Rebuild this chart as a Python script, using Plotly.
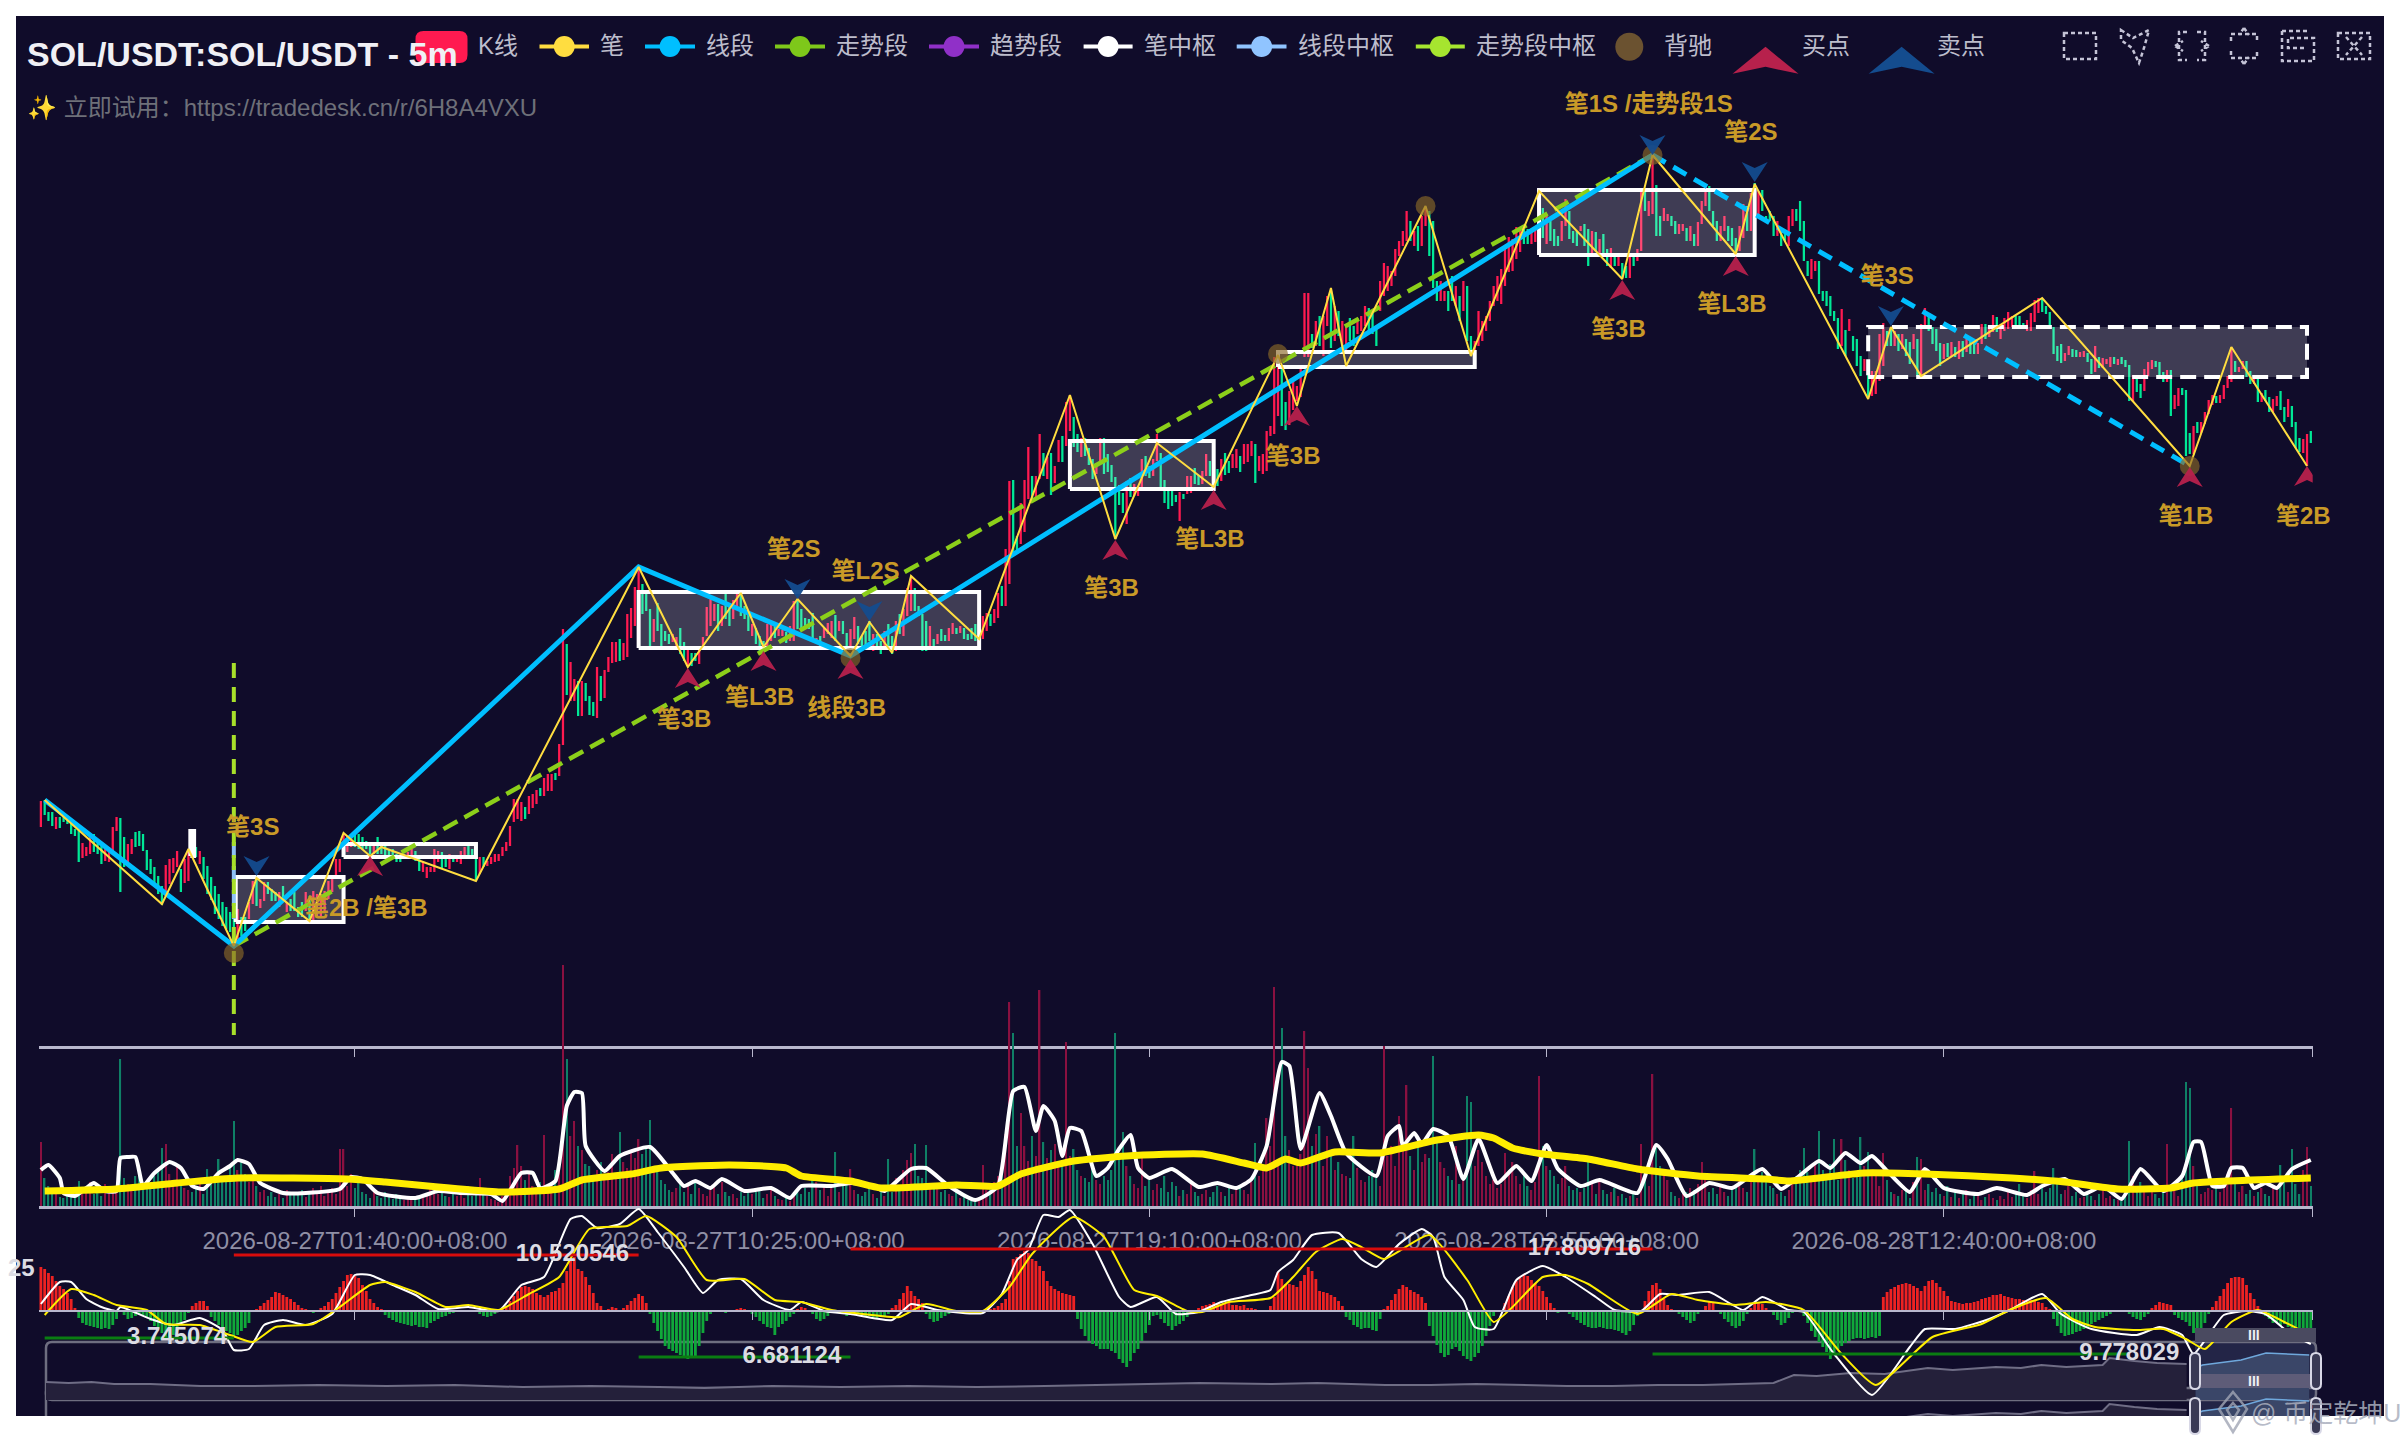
import plotly.graph_objects as go

W = 2400
H = 1440
BG = "#100c2a"

# ----- candles (5m bars, price scale hidden in the picture) -----
candle_open = [
    219,246,234,234,217,229,230,230,224,217, 217,188,190,192,212,207,202,185,184,195,
    215,228,209,184,192,214,215,212,196,187, 179,170,160,150,162,173,179,177,163,165,
    200,199,182,189,180,169,160,152,144,139, 134,130,107,129,129,127,142,167,138,145,
    164,157,154,139,160,134,147,154,139,144, 135,150,125,129,130,134,147,154,167,174,
    189,194,199,212,212,209,205,204,192,209, 202,200,197,197,192,190,187,187,189,195,
    187,174,168,174,174,184,194,187,177,190, 184,182,190,203,197,189,172,189,180,182,
    184,185,190,195,200,224,227,225,239, 232,238,242,258,250,255,255,273,270,301,402,
    345,345,365,330,363,350,344,328,370,348, 374,383,384,407,386,389,408,420,445,462,
    454,437,404,443,422,415,412,404,399,418, 404,380,393,393,382,398,410,420,425,442,
    420,452,440,427,440,452,440,433,410,418, 410,405,400,405,422,410,410,414,405,405,
    447,437,428,427,433,403,410,408,412,408, 431,415,425,413,400,407,420,410,415,425,
    395,412,405,398,422,410,395,432,410,430, 435,458,440,432,425,396,407,402,417,411,
    405,412,418,413,418,412,418,422,406,407, 415,432,423,428, 460,440,462,566,510,502,
    514,547,570,547,567,593,567,593,563,584, 610,600,615,629,612,589,608,598,587,572,
    582,608,592,581,569,561,553,522,568,550, 550,555,590,580,570,585,593,566,559,555,
    551,525,552,552,553,578,571,562,570,585, 575,577,565,593,585,578,578,590,582,584,
    590,602,575,572,575,610,612,630,680,644, 621,636,645,649, 689,689,712,700,730,690,
    720,755,705,735,700,695,728,720,712,715, 720,738,733,720,735,750,755,760,770,790,
    800,805,825,800,820,800,820,835,825,765, 745,745,755,770,740,750,735,760,710,690,
    700,705,715,725,740,745, 742,760,774,775,787,794,817,817,802,804,
    815,838,802,825,817,810,805,820,835,815, 815,815,822,817,790,814,792,812,797,778,
    793,780,783,780,768,790,785,795,855,830, 832,861,830,825,825,830,825,812,815,818,
    805,812,800,822,840,860,835,825,805,815, 820,818,808,795,808,840,815,863,830,856,
    830,835,830,810,815,815,800,820,837,845, 825,785,767,775,785,755,755,750,735,728,
    700,716,715,710,707,690,675,678,650,652, 665,680,715,718,700,712,
    697,707,704,697,707,670,717,730,719,717, 703,687,703,690,699,687,705,694,707,704,
    692,702,722,709,714,729,707,715,717,719, 730,730,723,715,715,724,733,747,740,734,
    719,700,702,685,691,697,696,689,689,693, 687,674,689,678,682,679,689,681,689,686,
    681,644,670,662,655,670,677,685,684,674, 664,676,637,640,658,656,613,592,624,613,
    622,632,641,650,643,647,658,664,685,674, 677,685,675,662,667,644,656,649,634,640,
    655,639,629,640,624,608,593,580,615,
]
candle_close = [
    245,231,225,220,229,218,224,222,212,210, 184,203,199,210,194,192,182,197,199,219,
    229,154,179,202,207,199,200,195,176,172, 160,152,141,181,187,188,195,154,187,195,
    190,189,195,167,152,146,132,127,120,117, 114,100,137,110,115,144,165,140,147,164,
    152,145,145,154,147,144,135,135,129,129, 154,127,155,152,152,155,165,167,187,187,
    212,210,210,199,197,197,197,192,200,192, 192,189,185,189,184,184,192,194,197,185,
    175,184,179,179,197,195,178,179,192,184, 191,195,199,191,187,165,189,179,185,189,
    192,192,199,204,220,247,247,244,227, 250,252,256,250,268,272,272,266,302,417,351,
    384,367,330,365,345,331,330,379,345,376, 389,404,404,385,403,432,438,459,480,432,
    435,396,427,415,400,405,402,412,409,392, 385,397,380,385,400,409,439,450,442,415,
    440,427,420,446,452,430,427,415,422,402, 395,398,422,425,408,417,416,403,420,445,
    417,417,418,417,408,408,400,418,423,425, 405,425,412,396,417,429,402,397,397,405,
    412,396,392,415,400,392,425,412,437,458, 468,435,430,395,395,420,398,412,405,405,
    418,423,412,420,407,406,407,405,415,430, 433,420,437,453, 440,497,565,490,492,543,
    566,599,545,570,612,570,589,551,580,606, 584,644,651,599,594,608,590,581,567,583,
    608,572,574,564,507,541,533,565,549,562, 560,587,570,568,587,612,555,543,537,540,
    544,554,547,570,570,562,561,575,592,570, 557,560,587,571,573,592,597,574,602,602,
    605,563,590,592,615,620,689,680,620,616, 655,668,660,680, 753,753,698,725,700,730,
    750,698,740,710,725,720,705,700,728,730, 740,715,712,700,765,783,780,775,797,805,
    815,835,805,815,795,830,838,790,758,745, 765,755,735,745,760,725,765,705,690,705,
    735,725,730,745,760,770, 777,799,809,807,819,817,802,802,817,817,
    855,808,832,805,800,800,825,847,807,803, 800,820,800,780,815,795,807,793,780,798,
    780,793,768,768,790,780,797,855,835,845, 897,810,810,838,832,820,812,822,822,805,
    820,800,824,845,862,835,820,805,820,830, 805,800,792,820,842,815,853,830,855,835,
    825,825,810,825,800,805,830,837,825,815, 785,770,787,785,752,745,740,730,725,697,
    737,690,727,695,680,670,687,650,675,675, 712,723,700,700,715,695,
    712,690,682,712,670,722,738,715,702,695, 680,702,689,704,689,705,689,707,692,692,
    703,722,707,719,731,714,720,728,734,730, 717,717,719,726,733,746,748,734,732,720,
    692,685,683,693,700,689,689,694,695,684, 672,700,678,688,687,689,682,687,682,679,
    645,671,654,648,677,684,686,679,670,664, 676,630,651,658,651,590,592,620,613,624,
    634,646,651,643,651,661,670,699,674,679, 685,669,662,670,644,653,645,634,647,650,
    636,624,647,619,598,594,607,612,603,
]

# ----- chan lines -----
bi_x = [1,32,39,51,57,71,80,87,90,115,158,171,185,191,200,214,219,225,230,248,272,284,295,310,327,332,
        341,345,366,378,396,418,426,448,453,483,489,497,529,568,579,599]
bi_y = [246,142,197,100,168,125,213,190,199,165,479,379,453,399,447,390,424,393,470,407,651,507,603,559,691,640,
        758,680,840,690,855,767,891,792,862,647,719,670,748,580,699,580]
seg_x = [1,51,158,214,426]
seg_y = [246,100,479,390,891]
seg_open_x = [426,568]
seg_open_y = [891,580]
trend_x = [51,426]
trend_y = [100,891]
beichi_marker_x = [51,214,327,366,426,568]
beichi_marker_y = [93,388,692,840,891,580]

# pen pivots: left, right, low, high
zs_left = [51.5,80,158,272,327,396,39.5]
zs_right = [80,115,248,310,379,453,40.5]
zs_low = [124,189,398,557,679,791,190]
zs_high = [169,202,454,605,694,856,215]
zs_open_left = 483
zs_open_right = 599
zs_open_low = 669
zs_open_high = 719

buy_x = [87,171,191,214,284,310,332,418,448,568,599]
buy_y = [190,378,395,387,506,556,640,766,790,579,580]
sell_x = [57,200,219,426,453,489]
sell_y = [170,447,425,891,864,720]
label_x = [86,170,190,213,283,309,331,417,447,567,598,56,199,218,425,452,488]
label_y = [136,325,347,336,456,505,588,715,740,528,528,217,495,473,940,912,768]
label_text = ["笔2B /笔3B","笔3B","笔L3B","线段3B","笔3B","笔L3B","笔3B","笔3B","笔L3B","笔1B","笔2B",
              "笔3S","笔2S","笔L2S","笔1S /走势段1S","笔2S","笔3S"]

# ----- volume -----
volume = [
    64,28,20,16,12,9,8,12,17,8,25,12,16,24,12,16,10,22,14,18,
    16,147,28,22,18,30,34,20,26,24,30,36,58,62,32,26,40,24,18,16,
    14,18,22,12,37,30,26,47,28,30,38,85,36,46,32,24,30,20,14,16,
    10,14,9,12,8,16,12,14,11,16,9,13,18,12,20,10,14,18,12,57,
    57,20,32,18,26,14,12,8,16,10,8,14,10,7,12,9,6,10,8,6,
    8,12,10,18,22,12,16,10,9,14,10,12,8,20,10,14,28,11,10,7,
    6,4,10,14,30,38,61,40,26,34,20,16,24,71,20,22,36,44,241,147,
    70,85,60,56,42,40,30,36,44,30,34,52,30,74,44,38,56,48,67,52,
    60,86,36,40,26,22,16,14,18,26,14,20,12,24,18,12,10,16,20,12,
    24,14,10,12,8,14,10,16,12,14,18,8,12,16,10,7,6,9,5,14,
    16,12,18,14,30,24,16,20,10,18,54,14,28,22,37,16,12,10,14,20,
    12,8,16,10,47,14,28,20,36,46,53,62,30,28,61,22,20,18,14,16,
    12,10,14,8,9,6,5,4,8,41,16,22,24,30,45,72,204,173,60,93,
    60,45,70,50,216,64,48,56,62,40,44,164,50,57,36,30,28,24,40,26,
    22,30,26,36,173,50,74,40,30,22,18,54,20,26,16,22,18,30,14,24,
    20,10,16,12,22,14,10,12,16,9,14,20,14,10,18,12,18,20,16,12,
    24,63,30,40,88,60,219,44,178,70,56,40,46,52,175,138,60,72,80,40,
    70,50,36,44,32,30,28,70,38,26,24,30,36,28,20,160,50,60,40,90,
    64,121,50,36,60,44,52,48,150,66,44,38,30,26,60,22,30,110,104,40,
    56,44,30,22,26,18,22,53,36,44,30,22,34,20,16,24,130,60,40,36,
    30,22,28,40,20,16,18,14,18,46,22,12,24,16,12,14,18,10,12,8,
    10,12,8,62,38,20,132,60,40,30,26,14,10,8,12,14,18,16,22,44,
    28,14,18,12,20,14,10,16,22,26,18,14,30,57,30,34,26,20,18,12,
    14,10,16,22,30,36,58,34,24,42,75,36,30,42,67,26,67,46,36,28,
    30,69,40,54,30,34,20,53,26,14,12,10,16,18,8,24,49,47,16,22,
    14,18,12,10,20,9,14,8,12,16,7,10,14,6,9,12,8,6,10,7,
    14,9,12,22,10,8,16,35,12,20,14,18,38,24,12,16,20,10,14,8,
    9,14,10,6,12,16,8,10,7,6,5,9,65,30,18,24,14,10,16,12,
    8,14,62,20,16,10,30,124,118,40,22,12,14,18,16,22,14,20,32,98,
    26,14,20,12,16,10,14,18,12,10,20,16,41,26,14,57,22,12,36,59,
    20,
]
vol_fast_x = [0,2,5,6,9,12,14,17,20,21,23,25,27,30,34,37,40,43,47,50,52,55,58,64,70,79,82,85,89,99,105,111,119,122,
              127,130,132,136,139,141,143,144,149,153,161,167,170,173,177,180,186,193,198,201,209,214,220,223,230,
              234,240,247,253,257,260,263,265,268,270,272,275,279,282,285,288,290,293,299,306,311,316,320,324,328,
              330,333,338,341,345,353,356,359,360,363,365,368,372,376,380,385,390,394,398,401,407,412,422,427,430,
              435,441,447,455,460,470,473,477,481,484,488,494,498,503,512,517,525,529,535,540,545,550,555,561,566,
              569,571,574,577,579,582,585,588,591,595,600]
vol_fast_y = [36,41,28,13,10,18,23,15,15,48,49,49,20,33,44,38,20,17,33,40,46,42,23,13,13,17,29,27,13,8,15,13,12,5,
              33,33,18,25,100,114,113,60,35,50,59,33,20,25,18,27,15,18,8,20,20,23,20,15,37,
              38,20,6,20,115,119,75,100,85,50,78,75,30,38,57,71,38,28,37,19,23,18,27,60,144,
              140,57,113,90,53,30,70,80,60,73,62,77,70,27,67,23,40,25,61,37,20,26,13,61,47,
              10,23,18,37,17,45,38,53,43,50,35,14,37,18,12,18,11,20,27,12,20,7,37,15,30,
              64,64,20,20,38,38,18,23,18,37,46]
vol_slow_x = [1,20,36,52,81,91,105,121,137,143,156,164,182,197,201,214,222,242,253,259,273,287,307,318,324,329,333,
              342,354,369,380,384,389,397,409,422,438,456,462,482,498,521,535,549,563,569,600]
vol_slow_y = [15,17,23,28,27,24,19,14,17,26,32,38,41,38,30,25,18,21,20,32,45,50,52,43,38,47,43,
              54,53,66,71,68,58,52,47,37,30,27,25,33,32,28,24,17,18,23,28]

# ----- macd -----
dif_x = [0,5,8,12,16,20,21,24,29,35,42,48,51,55,59,64,70,77,83,87,93,99,105,113,121,127,133,140,143,147,153,158,163,170,
         175,179,185,191,198,201,207,214,225,230,237,249,254,258,261,265,269,272,278,285,288,295,300,306,312,320,325,
         327,331,336,343,349,353,359,365,368,371,376,379,384,390,397,403,411,416,423,428,433,441,450,455,462,466,474,
         484,494,498,506,515,521,529,534,542,554,560,566,569,577,583,588,595,600]
dif_y = [7,29,29,12,4,0,4,0,-8,-14,-7,-19,-39,-38,-14,-9,-14,-3,36,36,26,16,2,4,0,26,34,92,95,83,87,102,79,44,
         18,31,32,11,1,9,0,-3,-9,7,1,-2,17,51,61,96,94,101,67,14,4,14,-3,-1,9,16,21,
         39,51,76,78,52,44,67,82,74,34,11,-16,-18,31,45,34,14,1,0,17,16,19,1,14,1,-1,-43,
         -84,-36,-18,-18,-8,2,17,-3,-18,-24,-16,-24,-43,-4,0,-3,-24,-33]
dea_x = [1,8,14,20,28,33,42,50,56,62,72,79,87,91,99,107,113,121,129,137,145,155,160,168,176,186,194,201,209,222,227,234,
         242,249,256,262,273,281,289,295,303,307,314,325,331,337,344,349,355,367,377,384,389,397,403,409,422,431,438,
         448,456,466,476,485,500,513,521,530,537,543,554,561,567,572,579,586,593,600]
dea_y = [-4,22,16,6,1,-13,-14,-24,-31,-16,-13,4,26,29,19,4,6,1,17,34,82,85,95,74,31,32,11,9,1,-5,-6,7,
         0,0,24,57,94,74,21,15,0,-1,9,13,34,59,72,64,52,76,31,-11,4,34,36,27,-3,17,11,
         6,9,1,-43,-74,-26,-13,2,13,-8,-16,-19,-18,-28,-38,-11,1,-11,-24]
# histogram humps, each as (first bar, values)
hist_runs = [
    (0, [44,42,38,35,30,25,22,18,12,3]),
    (10, [-7,-12,-14,-15,-16,-17,-18,-17,-18,-14,-8,-1,-4,-8,-7,-5,-4,-4,-6]),
    (29, [-10,-15,-18,-22,-26,-28,-24,-20,-14,-9,-2]),
    (40, [5,8,10,10,5]),
    (45, [-6,-10,-14,-18,-20,-22,-26,-24,-20,-17,-12]),
    (57, [2,5,8,11,14,19,18,16,14,12,9,6,3,2]),
    (71, [-1,-2]),
    (74, [3,5,9,12,18,24,30,36,37,35,33,26,20,12,8,4,2]),
    (91, [-4,-7,-9,-11,-12,-13,-14,-15,-14,-16,-16,-17,-12,-10,-8,-6,-5,-3,-2,-1]),
    (115, [-1,-3,-5,-6,-5,-3,-1]),
    (122, [2,5,10,15,20,24,25,24,22,18,16,14,16,19,20,23,28,40,50,54,42,40,34,26,18,8,5]),
    (150, [2,4,3,1,3,6,10,13,17,15,8]),
    (161, [-3,-12,-20,-28,-35,-38,-40,-42,-44,-46,-48,-47,-45,-35,-22,-10,-3]),
    (181, [-2,0,1,2,3,2,1]),
    (188, [-3,-6,-10,-13,-16,-17,-24,-16,-13,-10,-6,-3]),
    (200, [2,4,3]),
    (204, [-3,-8,-10,-8,-5,-2]),
    (211, [-2,-3,-5,-4,-2,-3,-4,-5,-5,-6,-7,-6,-5,-3]),
    (225, [3,6,12,18,25,20,15,12,8]),
    (234, [-3,-8,-11,-10,-7,-5,-3,-1]),
    (250, [1,2,3,5,8,12,30,52,54,57,60,58,52,50,45,40,30,25,22,20,18,17,16,15]),
    (274, [-8,-18,-25,-30,-33,-35,-38,-38,-38,-40,-42,-48,-52,-56,-50,-42,-38,-30,-22,-14,-5]),
    (295, [-4,-8,-12,-15,-19,-15,-13,-10,-6,-3,-1]),
    (306, [3,5,6,7,9,8,7,7,8,6,6,5,6,3,3,2,1]),
    (325, [5,14,39,32,27,27,26,24,30,36,44,40,32,20,19,18,16,14,10,5]),
    (345, [-6,-9,-14,-16,-18,-17,-17,-19,-20,-8]),
    (355, [2,5,11,17,22,26,24,21,19,17,14,8]),
    (367, [-15,-25,-34,-42,-46,-44,-38,-36,-40,-45,-48,-50,-46,-42,-35,-25,-15,-5]),
    (387, [8,15,24,30,33,36,35,31,28,25,20,14,8,3]),
    (401, [-2,0,0,-3,-6,-9,-12,-14,-16,-17,-17,-16,-17,-18,-18,-19,-20,-22,-24,-20,-14,-5]),
    (424, [10,20,26,28,22,12,6,2]),
    (433, [-3,-6,-9,-12,-10,-3]),
    (440, [5,9,9]),
    (444, [-3,-8,-11,-15,-17,-15,-10,-3]),
    (452, [3,8,9,7,3]),
    (458, [-4,-9,-14,-12,-7,-2]),
    (466, [-5,-12,-20,-26,-31,-36,-41,-48,-44,-38,-35,-32,-30,-28,-27,-27,-28,-27,-26,-27,-25]),
    (487, [14,19,22,24,26,27,28,27,25,23,20,25,30,31,28,24,20,15,10,9,8,7,8,8,9,10,12,13,14,16,16,17,15,14,13,12,12,11,10,11,11,9,8,4,2]),
    (532, [-8,-15,-22,-25,-24,-23,-21,-20,-18,-16,-13,-11,-9,-7,-5,-3,-1]),
    (552, [-3,-6,-8,-9,-6,-3]),
    (558, [3,6,9,8,7,6]),
    (564, [-4,-7,-9,-11,-15,-22,-28,-24,-12,-3]),
    (574, [4,10,15,22,28,33,34,34,33,26,18,12,5]),
    (587, [-2,-5,-8,-12,-11,-15,-13,-16,-19,-22,-26,-30,-24,-20]),
]
mark_x0 = [51,214,1,158,426]
mark_x1 = [158,426,51,214,552]
mark_y = [56,62,-27,-46,-43]
mark_color = ["#d80c0c","#d80c0c","#0a7d12","#0a7d12","#0a7d12"]
mark_label_x = [140.5,408,36,198.5,552]
mark_text = ["10.520546","17.809716","3.745074","6.681124","9.778029"]

tick_idx = [83,188,293,398,503,600.5]
tick_text = ["2026-08-27T01:40:00+08:00","2026-08-27T10:25:00+08:00","2026-08-27T19:10:00+08:00",
             "2026-08-28T03:55:00+08:00","2026-08-28T12:40:00+08:00",""]

# ----- slider overview -----
shadow_x = [0,1,2,3,4.6,5.5,6.8,9,12,15,18,21,24,27,29,32,35,38,41,44,46.9,49,50.8,54,56,59,61,63,65,67,69,71,73,75,
            76.1,77,78,79.5,81,82.9,84,85.9,87,87.9,89,90.6,90.9,92,93,94.3]
shadow_y = [18,17,18,16,16,15,14,14,15,14,15,13,14,13,12,14,13,14,13,14,15,16,17,16,17,15,15,16,15,14,14,15,15,16,
            17,25,24,27,26,32,30,33,32,35,33,35,42,39,37,36]
window_x = [94.7,95,96.7,97.8,99.7]
window_y = [32,35,40,47,45]

n_bars = len(candle_open)
bars = list(range(n_bars))
up = [c >= o for o, c in zip(candle_open, candle_close, strict=True)]

hist = [0] * n_bars
for start, vals in hist_runs:
    for k, v in enumerate(vals):
        hist[start + k] = v


def fx(px):
    return px / W


def fy(py):
    return 1 - py / H


fig = go.Figure()
smooth = dict(shape="spline", smoothing=0.5)

# slider overview first so everything else sits on top of it
for xa, ya in [("x", "y"), ("x2", "y2")]:
    fig.add_trace(go.Scatter(x=shadow_x, y=shadow_y, xaxis=xa, yaxis=ya, mode="lines", fill="tozeroy",
                             fillcolor="#24203a", line=dict(color="#6f6d85", width=2)))
    fig.add_trace(go.Scatter(x=window_x, y=window_y, xaxis=xa, yaxis=ya, mode="lines", fill="tozeroy",
                             fillcolor="#3a4668", line=dict(color="#6fa8dc", width=1.5)))

# pivot fills go under the candles, their borders over them
for i in range(len(zs_left)):
    fig.add_trace(go.Scatter(x=[zs_left[i], zs_right[i], zs_right[i], zs_left[i], zs_left[i]],
                             y=[zs_low[i], zs_low[i], zs_high[i], zs_high[i], zs_low[i]],
                             xaxis="x3", yaxis="y3", mode="none", fill="toself",
                             fillcolor="rgba(255,255,255,0.2)"))
fig.add_trace(go.Scatter(x=[zs_open_left, zs_open_right, zs_open_right, zs_open_left, zs_open_left],
                         y=[zs_open_low, zs_open_low, zs_open_high, zs_open_high, zs_open_low],
                         xaxis="x3", yaxis="y3", mode="none", fill="toself",
                         fillcolor="rgba(255,255,255,0.2)"))

# candles
fig.add_trace(go.Bar(x=bars, y=[abs(c - o) for o, c in zip(candle_open, candle_close)],
                     base=[min(o, c) for o, c in zip(candle_open, candle_close)],
                     width=0.6, xaxis="x3", yaxis="y3",
                     marker=dict(color=["#ff1a50" if u else "#00e896" for u in up], line_width=0)))

for i in range(len(zs_left)):
    fig.add_trace(go.Scatter(x=[zs_left[i], zs_right[i], zs_right[i], zs_left[i], zs_left[i]],
                             y=[zs_low[i], zs_low[i], zs_high[i], zs_high[i], zs_low[i]],
                             xaxis="x3", yaxis="y3", mode="lines", line=dict(color="#ffffff", width=4)))
fig.add_trace(go.Scatter(x=[zs_open_left, zs_open_right, zs_open_right, zs_open_left, zs_open_left],
                         y=[zs_open_low, zs_open_low, zs_open_high, zs_open_high, zs_open_low],
                         xaxis="x3", yaxis="y3", mode="lines",
                         line=dict(color="#ffffff", width=4, dash="16px,8px")))

# vertical dashed pivots at the first low
fig.add_trace(go.Scatter(x=[51, 51], y=[204, 127], xaxis="x3", yaxis="y3", mode="lines",
                         line=dict(color="#8fc1f5", width=4, dash="16px,8px")))
fig.add_trace(go.Scatter(x=[51, 51], y=[383, 11], xaxis="x3", yaxis="y3", mode="lines",
                         line=dict(color="#a8e02a", width=4, dash="15px,9px")))

fig.add_trace(go.Scatter(x=trend_x, y=trend_y, xaxis="x3", yaxis="y3", mode="lines",
                         line=dict(color="#8ccf1a", width=4.5, dash="16px,8px")))
fig.add_trace(go.Scatter(x=seg_x, y=seg_y, xaxis="x3", yaxis="y3", mode="lines",
                         line=dict(color="#00bfff", width=5)))
fig.add_trace(go.Scatter(x=seg_open_x, y=seg_open_y, xaxis="x3", yaxis="y3", mode="lines",
                         line=dict(color="#00bfff", width=5, dash="15px,9px")))
fig.add_trace(go.Scatter(x=bi_x, y=bi_y, xaxis="x3", yaxis="y3", mode="lines",
                         line=dict(color="#ffdd40", width=2)))
fig.add_trace(go.Scatter(x=beichi_marker_x, y=beichi_marker_y, xaxis="x3", yaxis="y3", mode="markers",
                         marker=dict(color="rgba(139,105,40,0.65)", size=20, line_width=0)))
fig.add_trace(go.Scatter(x=label_x, y=label_y, text=label_text, xaxis="x3", yaxis="y3", mode="text",
                         textposition="middle center", cliponaxis=False,
                         textfont=dict(family="Liberation Sans, Noto Sans CJK SC", size=24, color="#c99a27",
                                       weight="bold")))

# volume
fig.add_trace(go.Bar(x=bars, y=volume, width=0.38, xaxis="x4", yaxis="y4",
                     marker=dict(color=["#8a1040" if u else "#0f8066" for u in up], line_width=0)))
fig.add_trace(go.Scatter(x=vol_fast_x, y=vol_fast_y, xaxis="x4", yaxis="y4", mode="lines",
                         line=dict(smooth, color="#ffffff", width=4)))
fig.add_trace(go.Scatter(x=vol_slow_x, y=vol_slow_y, xaxis="x4", yaxis="y4", mode="lines",
                         line=dict(smooth, color="#ffee00", width=7)))

# macd
fig.add_trace(go.Bar(x=bars, y=hist, width=0.75, xaxis="x5", yaxis="y5",
                     marker=dict(color=["#ee2222" if v >= 0 else "#10a83a" for v in hist], line_width=0)))
fig.add_trace(go.Scatter(x=dif_x, y=dif_y, xaxis="x5", yaxis="y5", mode="lines",
                         line=dict(smooth, color="#ffffff", width=2)))
fig.add_trace(go.Scatter(x=dea_x, y=dea_y, xaxis="x5", yaxis="y5", mode="lines",
                         line=dict(smooth, color="#ffee00", width=2)))
for i in range(len(mark_y)):
    fig.add_trace(go.Scatter(x=[mark_x0[i], mark_x1[i]], y=[mark_y[i], mark_y[i]], xaxis="x5", yaxis="y5",
                             mode="lines", line=dict(color=mark_color[i], width=3)))
fig.add_trace(go.Scatter(x=mark_label_x, y=mark_y, text=mark_text, xaxis="x5", yaxis="y5", mode="text",
                         textposition="middle center", cliponaxis=False,
                         textfont=dict(family="Liberation Sans", size=24, color="#dcdce4", weight="bold")))

shapes = []


# fixed size glyph at a pixel position of the page
def glyph(px, py, path, color=None, line=None, width=2, dash="solid", layer="above"):
    shapes.append(dict(type="path", xref="paper", yref="paper", xsizemode="pixel", ysizemode="pixel",
                       xanchor=fx(px), yanchor=fy(py), path=path, fillcolor=color, layer=layer,
                       line=dict(color=line or "rgba(0,0,0,0)", width=width if line else 0, dash=dash)))


def box(x0, y0, x1, y1, color=None, line=None, width=2, layer="below"):
    shapes.append(dict(type="rect", xref="paper", yref="paper", x0=fx(x0), x1=fx(x1), y0=fy(y0), y1=fy(y1),
                       fillcolor=color, layer=layer,
                       line=dict(color=line or "rgba(0,0,0,0)", width=width if line else 0)))


def rounded(w, h, r):
    return (f"M{-w+r},{h}L{w-r},{h}Q{w},{h} {w},{h-r}L{w},{-h+r}Q{w},{-h} {w-r},{-h}"
            f"L{-w+r},{-h}Q{-w},{-h} {-w},{-h+r}L{-w},{h-r}Q{-w},{h} {-w+r},{h}Z")


def circle(r):
    k = 0.5523 * r
    return (f"M{-r},0C{-r},{k} {-k},{r} 0,{r}C{k},{r} {r},{k} {r},0"
            f"C{r},{-k} {k},{-r} 0,{-r}C{-k},{-r} {-r},{-k} {-r},0Z")


BUY_ARROW = "M0,0L13,-20L0,-14L-13,-20Z"
SELL_ARROW = "M0,0L13,20L0,14L-13,20Z"

box(16, 16, 2384, 1416, color=BG)

# slider frames
box(46, 1388, 2316, 1400, color="#24203a", layer="below")
box(2195, 1342, 2316, 1416, color="#232547", layer="below")
glyph(1181, 1371, rounded(1135, 29, 6), line="#6e6e80", width=2.5, layer="below")
shapes.append(dict(type="path", xref="paper", yref="paper",
                   path=f"M{fx(46)},{fy(1416)}L{fx(46)},{fy(1392)}Q{fx(46)},{fy(1388)} {fx(50)},{fy(1388)}"
                        f"L{fx(2316)},{fy(1388)}",
                   line=dict(color="#6e6e80", width=2.5), layer="below"))
box(2195, 1328, 2316, 1342, color="#4a4a60", layer="above")
box(2195, 1374, 2316, 1388, color="#5e5c78", layer="above")
for hx in [2195, 2316]:
    glyph(hx, 1371, rounded(5, 18, 5), color="#3a3a55", line="#d8d8e6", width=2)
    glyph(hx, 1416, rounded(5, 18, 5), color="#3a3a55", line="#d8d8e6", width=2)

# signal arrows, anchored to the price axes
for x, y in zip(buy_x, buy_y):
    shapes.append(dict(type="path", xref="x3", yref="y3", xsizemode="pixel", ysizemode="pixel", xanchor=x,
                       yanchor=y, path=BUY_ARROW, fillcolor="#b7214c", line=dict(width=0), opacity=0.95))
for x, y in zip(sell_x, sell_y):
    shapes.append(dict(type="path", xref="x3", yref="y3", xsizemode="pixel", ysizemode="pixel", xanchor=x,
                       yanchor=y, path=SELL_ARROW, fillcolor="#144c8e", line=dict(width=0), opacity=0.95))

# legend
legend_lines = [(539.5, 589, "#ffdd40", "笔", 599), (645, 695, "#00bfff", "线段", 705),
                (775, 825, "#7ec81a", "走势段", 835), (929, 979, "#9030c8", "趋势段", 989.5),
                (1083.6, 1132.6, "#ffffff", "笔中枢", 1143), (1236.7, 1286.5, "#90c4ff", "线段中枢", 1297),
                (1415.8, 1464.8, "#a6e52f", "走势段中枢", 1475.5)]
annotations = []


def text(px, py, s, size=24, color="#bdbdcc", anchor="left", bold=False, family="Liberation Sans, Noto Sans CJK SC"):
    annotations.append(dict(xref="paper", yref="paper", x=fx(px), y=fy(py), text=f"<b>{s}</b>" if bold else s,
                            showarrow=False, xanchor=anchor, yanchor="middle", borderpad=0,
                            font=dict(family=family, size=size, color=color)))


glyph(441.5, 47, rounded(26, 16, 8), color="#ff1a50")
text(477, 45, "K线")
for x0, x1, color, name, tx in legend_lines:
    box(x0, 44.5, x1, 48.5, color=color, layer="above")
    glyph((x0 + x1) / 2, 46.5, circle(10.5), color=color)
    text(tx - 0.5, 45, name)
glyph(1629.3, 46.8, circle(14), color="#6b5230")
text(1663, 45, "背驰")
glyph(1765.5, 46.8, "M0,0L33,-27L0,-20L-33,-27Z", color="#b7214c")
text(1800.5, 45, "买点")
glyph(1901.6, 46.8, "M0,0L33,-27L0,-20L-33,-27Z", color="#144c8e")
text(1936, 45, "卖点")

text(26, 54, "SOL/USDT:SOL/USDT - 5m", size=34, color="#f0f0f5", bold=True)
text(26, 108, '<span style="color:#a08a3c">✨</span> 立即试用：https://tradedesk.cn/r/6H8A4VXU', color="#6e7079")
text(36, 1267, "25", color="#dcdce4", anchor="right", bold=True)

# toolbox
TOOL = "#c4c3d6"
tools = [
    (2080, "M-16,13L16,13L16,-13L-16,-13Z"),
    (2135, "M-14,16L-2,8L14,16L9,-2L4,-17L-3,-2L-14,6Z"),
    (2192, "M-5,14L-13,14L-13,-14L-5,-14M5,14L13,14L13,-14L5,-14M-17,0L-9,5M-17,0L-9,-5M17,0L9,5M17,0L9,-5"),
    (2244, "M-13,5L-13,12L13,12L13,5M-13,-5L-13,-12L13,-12L13,-5M0,18L-5,11M0,18L5,11M0,-18L-5,-11M0,-18L5,-11"),
    (2298, "M-16,15L12,15M-16,15L-16,-15L16,-15L16,8L-10,8L-10,-2L6,-2"),
    (2354, "M-16,13L16,13L16,-13L-16,-13ZM-8,9L8,-9M8,9L-8,-9"),
]
for tx, path in tools:
    glyph(tx, 46, path, line=TOOL, width=2.5, dash="4px,3px")

# move handle grips
text(2254, 1335, "III", size=14, color="#f0f0f5", anchor="center", bold=True)
text(2254, 1381, "III", size=14, color="#f0f0f5", anchor="center", bold=True)

# watermark
glyph(2233, 1412, "M0,20L14,3L0,-20L-14,3ZM0,9L6,2L0,-8L-6,2Z", line="rgba(160,165,180,0.8)", width=2.5)
text(2250, 1413, "@ 币定乾坤U", size=25, color="rgba(170,175,190,0.85)")

hidden = dict(visible=False, fixedrange=True)
x_range = [-0.5, 600.5]
x_domain = [fx(39), fx(2312.7)]
axis_line = dict(showgrid=False, zeroline=False, range=x_range, domain=x_domain, showline=True,
                 linecolor="#b9b8ce", ticks="outside", ticklen=8, tickwidth=1, tickcolor="#b9b8ce",
                 tickmode="array", tickvals=tick_idx, ticktext=[""] * len(tick_idx))

fig.update_layout(
    width=W, height=H, autosize=False,
    margin=dict(l=0, r=0, t=0, b=0, pad=0),
    paper_bgcolor="#ffffff", plot_bgcolor="rgba(0,0,0,0)",
    showlegend=False, barmode="overlay", hovermode=False,
    shapes=shapes, annotations=annotations,
    font=dict(family="Liberation Sans, Noto Sans CJK SC"),
    # slider overview
    xaxis=dict(hidden, range=[0, 100], domain=[fx(46), fx(2316)], anchor="y"),
    yaxis=dict(hidden, range=[0, 58], domain=[fy(1400), fy(1342)], anchor="x"),
    xaxis2=dict(hidden, range=[0, 100], domain=[fx(46), fx(2316)], anchor="y2"),
    yaxis2=dict(hidden, range=[30, 58], domain=[fy(1416), fy(1388)], anchor="x2"),
    # price
    xaxis3=dict(axis_line, anchor="y3", linewidth=3),
    yaxis3=dict(hidden, range=[0, 1031], domain=[fy(1046), fy(15)], anchor="x3"),
    # volume
    xaxis4=dict(axis_line, anchor="y4", linewidth=3, ticktext=tick_text, ticklabelstandoff=3,
                tickfont=dict(family="Liberation Sans", size=24, color="#8f8fa5")),
    yaxis4=dict(hidden, range=[0, 247], domain=[fy(1206), fy(959)], anchor="x4"),
    # macd
    xaxis5=dict(axis_line, anchor="free", position=fy(1311), linewidth=2),
    yaxis5=dict(hidden, range=[-105, 111], domain=[fy(1416), fy(1200)], anchor="free", position=fx(39)),
)

fig.write_html("out.html", post_script="document.body.style.margin='0';", config={"displayModeBar": False})
